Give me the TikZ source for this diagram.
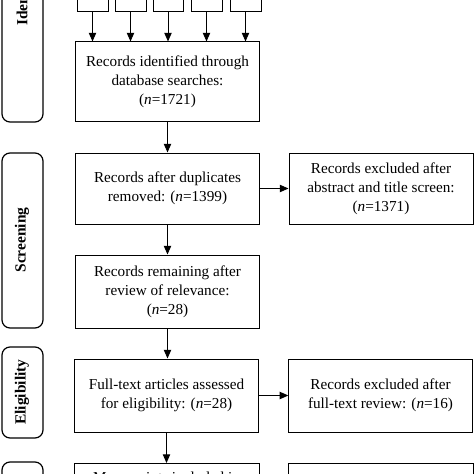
\documentclass[tikz,border=0pt]{standalone}
\usepackage{fontspec}
\setmainfont{Liberation Serif}
\usetikzlibrary{arrows.meta,positioning}

\tikzset{
  flowbox/.style={draw, line width=0.75pt, align=center, inner sep=0pt,
    minimum width=137.5pt, font=\fontsize{11.4pt}{14.25pt}\selectfont},
  stagebox/.style={draw, line width=0.9pt, rounded corners=6pt},
  stagetext/.style={rotate=90, font=\fontsize{11.6pt}{14pt}\selectfont\bfseries},
  flowarrow/.style={-{Triangle[length=6.5pt,width=5.5pt]}, line width=0.75pt},
}

\begin{document}
\begin{tikzpicture}[x=0.75pt,y=-0.75pt]
 \useasboundingbox (0,0) rectangle (474,474);
 \clip (0,0) rectangle (474,474);
 %
 \draw[stagebox] (2,-160) rectangle (43,122);
 \draw[stagebox] (2,153) rectangle (43,328);
 \draw[stagebox] (2,347) rectangle (43,438);
 \draw[stagebox] (2,462) rectangle (43,560);
 \node[stagetext] (ident) at (22,-19) {Identification};
 \node[stagetext] (screen) at (22,240) {Screening};
 \node[stagetext] (elig) at (22,392) {Eligibility};
 %
 \node[flowbox, minimum width=23.25pt, minimum height=30pt] (s1) at (92.5,-8) {};
 \node[flowbox, minimum width=23.25pt, minimum height=30pt] (s2) at (130.5,-8) {};
 \node[flowbox, minimum width=22.5pt, minimum height=30pt] (s3) at (168,-8) {};
 \node[flowbox, minimum width=23.25pt, minimum height=30pt] (s4) at (206.5,-8) {};
 \node[flowbox, minimum width=23.25pt, minimum height=30pt] (s5) at (245.5,-8) {};
 %
 \node[flowbox, minimum height=60pt] (db) at (167.5,82)
   {Records identified through\\database searches:\\(\textit{n}=1721)};
 \node[flowbox, minimum height=53.25pt] (dup) at (167.5,188.5)
   {Records after duplicates\\removed: (\textit{n}=1399)};
 \node[flowbox, minimum width=138pt, minimum height=53.25pt] (exa) at (381,188.5)
   {Records excluded after\\abstract and title screen:\\(\textit{n}=1371)};
 \node[flowbox, minimum height=54.75pt] (rel) at (167.5,291.5)
   {Records remaining after\\review of relevance:\\(\textit{n}=28)};
 \node[flowbox, minimum height=54.75pt] (full) at (166.5,395.5)
   {Full-text articles assessed\\for eligibility: (\textit{n}=28)};
 \node[flowbox, minimum height=54.75pt] (exb) at (380.5,395.5)
   {Records excluded after\\full-text review: (\textit{n}=16)};
 \node[flowbox, minimum width=138.75pt, minimum height=60pt, anchor=north] (incl) at (166.5,463) {};
 \node[flowbox, draw=none, anchor=north] (incltext) at (166.5,471) {Manuscripts included in};
 \node[flowbox, minimum width=138.75pt, minimum height=60pt, anchor=north] (other) at (380.5,463) {};
 %
 \foreach \s in {s1,s2,s3,s4,s5}
   \draw[flowarrow] (\s.south) -- (\s.south |- db.north);
 \draw[flowarrow] (db.south) -- (dup.north);
 \draw[flowarrow] (dup.east) -- (exa.west);
 \draw[flowarrow] (dup.south) -- (rel.north);
 \draw[flowarrow] (rel.south) -- (rel.south |- full.north);
 \draw[flowarrow] (full.east) -- (exb.west);
 \draw[flowarrow] (full.south) -- (incl.north);
\end{tikzpicture}
\end{document}
